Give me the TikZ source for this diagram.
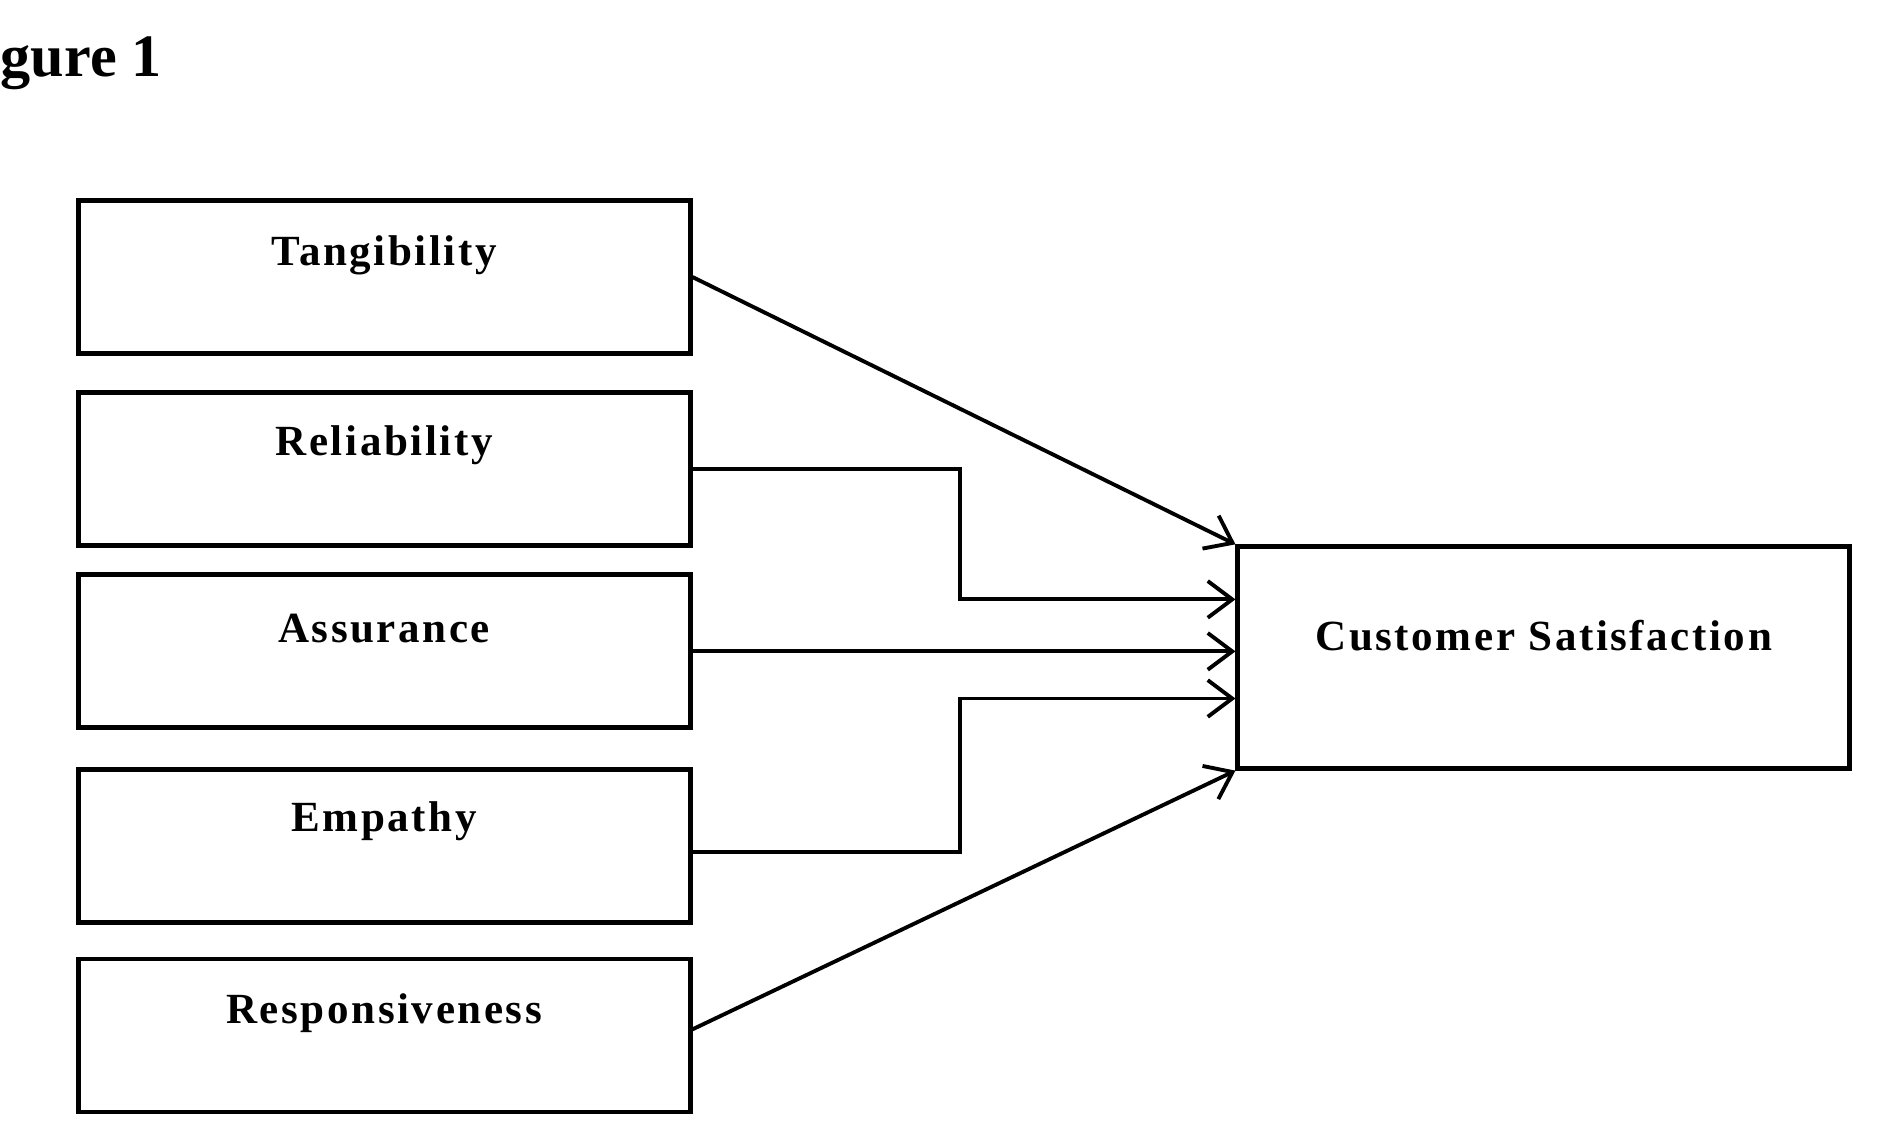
\documentclass[tikz,border=0pt]{standalone}
\usepackage{fontspec}
\setmainfont{Liberation Serif}
\newfontfamily\spaced[LetterSpace=6]{Liberation Serif}
\usetikzlibrary{positioning}
\usetikzlibrary{arrows.meta}
\usetikzlibrary{calc}

\begin{document}
\begin{tikzpicture}[x=0.01cm,y=-0.01cm,
% Box style
    factor/.style={rectangle,line width=1.1pt,draw,minimum width=5cm,minimum height=1.25cm,
		inner sep=0pt},
    lbl/.style={font={\spaced\fontsize{10pt}{12}\selectfont\bfseries},anchor=center},
    link/.style={line width=0.9pt,-{Straight Barb[length=2mm,width=3mm]}}
    ]
  \useasboundingbox (0,0) rectangle (1550,926);
  \node (title) [anchor=west,inner sep=0pt,font={\fontsize{14pt}{16}\selectfont\bfseries}] at (0,52) {gure 1};

  % factors
  \node (tan) [factor,anchor=north west] at (62,162) {};
  \node (rel) [factor,anchor=north west] at (62,319) {};
  \node (ass) [factor,anchor=north west] at (62,468) {};
  \node (emp) [factor,anchor=north west] at (62,627) {};
  \node (res) [factor,anchor=north west] at (62,782) {};
  \node [lbl] at ($(tan.north)+(0,47)$) {Tangibility};
  \node [lbl] at ($(rel.north)+(0,45)$) {Reliability};
  \node [lbl] at ($(ass.north)+(0,46)$) {Assurance};
  \node [lbl] at ($(emp.north)+(0,44)$) {Empathy};
  \node [lbl] at ($(res.north)+(0,46)$) {Responsiveness};

  \node (cs) [factor,minimum height=1.81cm,anchor=north west] at (1010,445) {};
  \node [lbl] at ($(cs.north)+(0,75)$) {Customer Satisfaction};

  % links
  \coordinate (c1) at (1010,490);
  \coordinate (c3) at (1010,571);
  \draw[link] (tan.east) -- (cs.north west);
  \draw[link] (rel.east) -| (785,490) -- (c1);
  \draw[link] (ass.east) -- (ass.east -| cs.west);
  \draw[link] ($(emp.east)+(0,5)$) -| (785,571) -- (c3);
  \draw[link] ($(res.east)+(0,-5)$) -- (cs.south west);
\end{tikzpicture}
\end{document}
